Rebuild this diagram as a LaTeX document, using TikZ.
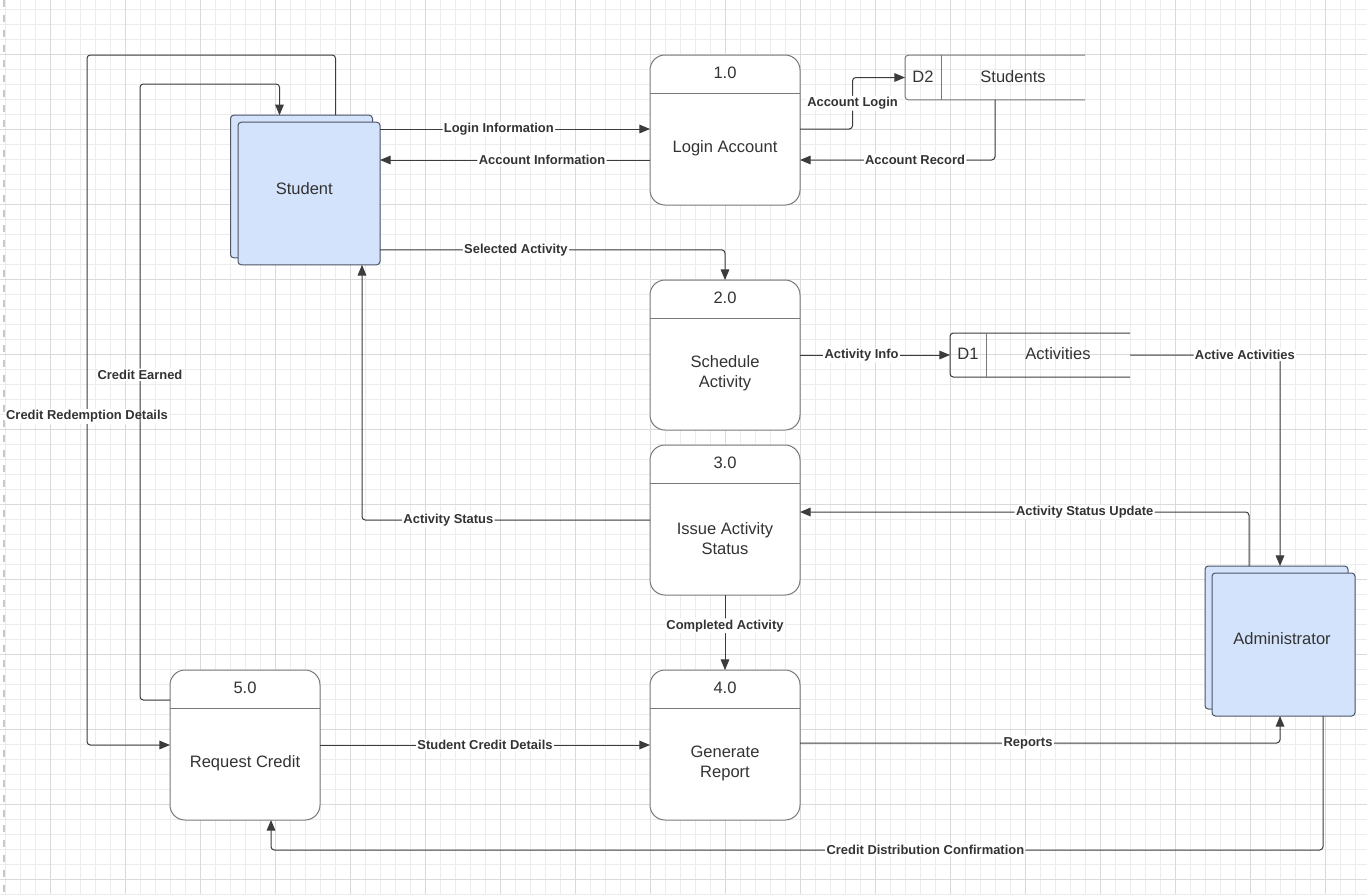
\documentclass[tikz,border=0pt]{standalone}
\usepackage{fontspec}
\setmainfont{Liberation Sans}
\usetikzlibrary{arrows.meta,calc}
\definecolor{gridminor}{RGB}{236,236,236}
\definecolor{gridmajor}{RGB}{218,218,218}
\definecolor{entfill}{RGB}{211,227,251}
\definecolor{entdraw}{RGB}{76,85,102}
\definecolor{boxdraw}{RGB}{120,120,120}
\definecolor{linecol}{RGB}{60,60,60}
\definecolor{txt}{RGB}{51,51,51}
\definecolor{dashcol}{RGB}{200,200,200}
\begin{document}
\begin{tikzpicture}[x=0.75pt,y=-0.75pt,
  proc/.style={draw=boxdraw, line width=0.75pt, rounded corners=11.25pt, minimum width=112.5pt, minimum height=112.5pt, inner sep=0pt, outer sep=0pt, fill=white},
  divline/.style={draw=boxdraw, line width=0.75pt},
  ent/.style={draw=entdraw, line width=0.75pt, fill=entfill, rounded corners=2.5pt, minimum width=106.5pt, minimum height=107pt, inner sep=0pt, outer sep=0pt},
  storebox/.style={minimum width=135pt, minimum height=33.5pt, inner sep=0pt, outer sep=0pt},
  storeline/.style={draw=boxdraw, line width=0.75pt, rounded corners=2.5pt},
  btxt/.style={text=txt, font=\fontsize{12.4}{15}\selectfont, align=center, inner sep=0pt},
  lbl/.style={text=txt, font=\bfseries\fontsize{9.7}{11}\selectfont, fill=white, inner sep=1pt},
  flow/.style={draw=linecol, line width=0.75pt, rounded corners=2.5pt, -{Triangle[length=8pt,width=6.5pt]}},
  gminor/.style={draw=gridminor, line width=0.75pt},
  gmajor/.style={draw=gridmajor, line width=0.75pt}
]
\useasboundingbox (0,0) rectangle (1367,894);
\fill[white] (0,0) rectangle (1367,894);
% grid
\foreach \i in {0,...,91} { \draw[gminor] (5.5+15*\i,0) -- (5.5+15*\i,894); }
\foreach \j in {0,...,59} { \draw[gminor] (0,9.5+15*\j) -- (1367,9.5+15*\j); }
\foreach \i in {0,...,17} { \draw[gmajor] (50.5+75*\i,0) -- (50.5+75*\i,894); }
\foreach \j in {0,...,11} { \draw[gmajor] (0,54.5+75*\j) -- (1367,54.5+75*\j); }
\draw[draw=dashcol, line width=1.5pt, dash pattern=on 5.25pt off 6pt] (4,0) -- (4,894);

% processes
\node[proc] (p1) at (725,130) {};
\node[proc] (p2) at (725,355) {};
\node[proc] (p3) at (725,520) {};
\node[proc] (p4) at (725,745) {};
\node[proc] (p5) at (245,745) {};
\foreach \p/\n/\t in {p1/1.0/Login Account, p2/2.0/{Schedule\\Activity}, p3/3.0/{Issue Activity\\Status}, p4/4.0/{Generate\\Report}, p5/5.0/Request Credit} {
  \draw[divline] ($(\p.north west)+(0,38)$) -- ($(\p.north east)+(0,38)$);
  \node[btxt] (\p n) at ($(\p.north)+(0,18)$) {\n};
  \node[btxt] (\p t) at ($(\p.north)+(0,93.5)$) {\t};
}

% entities
\node[ent] (studentb) at (301.5,186.5) {};
\node[ent] (student) at (309,193.5) {};
\node[btxt] (studentt) at ($(studentb)!.5!(student)+(-1,-1.5)$) {Student};
\node[ent, minimum width=107.25pt, minimum height=107.25pt] (adminb) at (1276.5,637.5) {};
\node[ent, minimum width=107.25pt, minimum height=107.25pt] (admin) at (1283.5,644.5) {};
\node[btxt] (admint) at ($(adminb)!.5!(admin)+(2,-2)$) {Administrator};

% data stores
\node[storebox] (d2) at (995,77.5) {};
\draw[storeline] (d2.north east) -- (d2.north west) -- (d2.south west) -- (d2.south east);
\draw[divline] ($(d2.north west)+(36,0)$) -- ($(d2.south west)+(36,0)$);
\node[btxt] (d2id) at ($(d2.west)+(18,-0.5)$) {D2};
\node[btxt] (d2nm) at ($(d2.west)+(108,-0.5)$) {Students};

\node[storebox, minimum height=33pt] (d1) at (1040,355) {};
\draw[storeline, draw=linecol] (d1.north east) -- (d1.north west) -- (d1.south west) -- (d1.south east);
\draw[divline] ($(d1.north west)+(36,0)$) -- ($(d1.south west)+(36,0)$);
\node[btxt] (d1id) at ($(d1.west)+(18,-1)$) {D1};
\node[btxt] (d1nm) at ($(d1.west)+(108,-1)$) {Activities};

% connectors
\coordinate (p1a) at ($(p1.north west)+(0,74)$);
\coordinate (p1b) at ($(p1.north west)+(0,105)$);
\draw[flow] (student.east |- p1a) -- node[lbl,pos=0.44]{Login Information} (p1a);
\draw[flow] (p1b) -- node[lbl,pos=0.40]{Account Information} (student.east |- p1b);

\coordinate (m1) at ($(p1.east)!.5!(d2.west)$);
\draw[flow] (p1.east |- p1a) -| node[lbl,pos=0.75]{Account Login} (m1 |- d2.west) -- (d2.west);
\draw[flow] (d2.south) |- node[lbl,pos=0.705]{Account Record} (p1.east |- p1b);

\coordinate (s3) at ($(student.south east)+(0,-15)$);
\draw[flow] (s3) -| node[lbl,pos=0.197]{Selected Activity} (p2.north);

\draw[flow] (p2.east |- d1.west) -- node[lbl,pos=0.41]{Activity Info} (d1.west);

\coordinate (adtop) at ($(adminb.north)+(3.5,0)$);
\draw[flow] (d1.east) -| node[lbl,pos=0.383]{Active Activities} (adtop);

\coordinate (asu) at ($(adminb.north west)+(44,0)$);
\coordinate (p3u) at ($(p3.east)+(0,-8)$);
\draw[flow] (asu) |- node[lbl,pos=0.683]{Activity Status Update} (p3u);

\coordinate (sbot) at ($(student.south west)+(124,0)$);
\draw[flow] (p3.west) -| node[lbl,pos=0.35]{Activity Status} (sbot);

\draw[flow] (p3.south) -- node[lbl,pos=0.41]{Completed Activity} (p4.north);

\coordinate (adbot) at ($(admin.south)+(-3.5,0)$);
\coordinate (p4r) at ($(p4.east)+(0,-2)$);
\draw[flow] (p4r) -| node[lbl,pos=0.2375]{Reports} (adbot);

\coordinate (cdA) at ($(admin.south east)+(-32,0)$);
\coordinate (cdB) at ($(cdA)+(0,134)$);
\coordinate (p5b) at ($(p5.south)+(26,0)$);
\draw[flow] (cdA) -- (cdB) -| node[lbl,pos=0.189]{Credit Distribution Confirmation} (p5b);

\draw[flow] (p5.east) -- node[lbl,pos=0.5]{Student Credit Details} (p4.west);

\coordinate (crs) at ($(studentb.north west)+(105,0)$);
\coordinate (cr1) at (87,55);
\draw[flow] (crs) |- (cr1) |- node[lbl,pos=0.262]{Credit Redemption Details} (p5.west);

\coordinate (ce0) at ($(p5.north west)+(0,30)$);
\coordinate (ce1) at (140,84);
\coordinate (cet) at ($(studentb.north west)+(49,0)$);
\draw[flow] (ce0) -| node[lbl,pos=0.764]{Credit Earned} (ce1) -| (cet);
\end{tikzpicture}
\end{document}
